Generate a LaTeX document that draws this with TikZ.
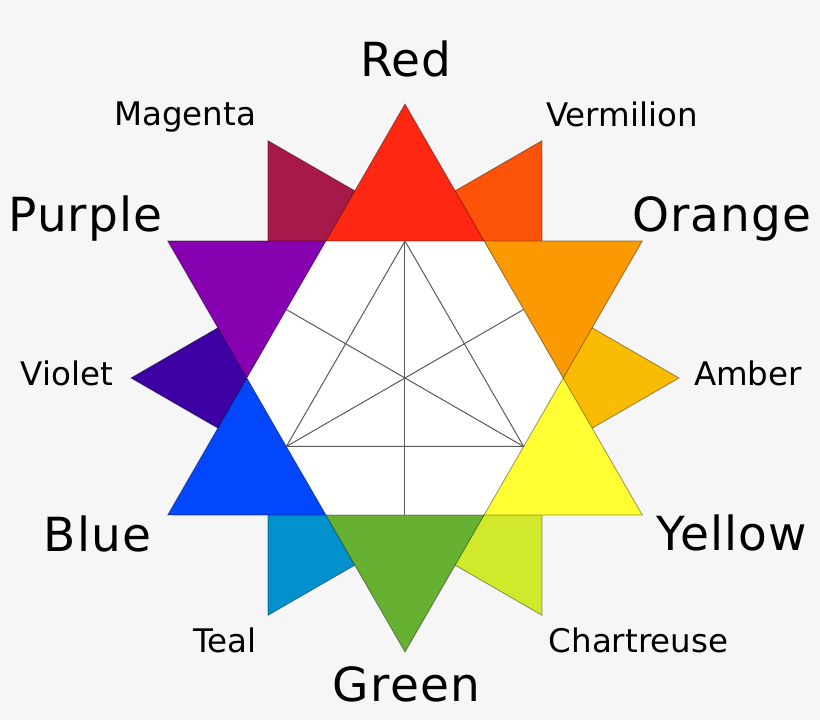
\documentclass[tikz,border=0pt]{standalone}
\usepackage{fontspec}
\setmainfont{DejaVu Sans}
\newfontfamily\bigfam[LetterSpace=2.5]{DejaVu Sans}
\definecolor{bgc}{HTML}{F6F6F6}
\definecolor{cRed}{HTML}{FE2712}
\definecolor{cVer}{HTML}{FD5308}
\definecolor{cOra}{HTML}{FB9902}
\definecolor{cAmb}{HTML}{FABC02}
\definecolor{cYel}{HTML}{FEFE33}
\definecolor{cCha}{HTML}{D0EA2B}
\definecolor{cGre}{HTML}{66B032}
\definecolor{cTea}{HTML}{0391CE}
\definecolor{cBlu}{HTML}{0247FE}
\definecolor{cVio}{HTML}{3D01A4}
\definecolor{cPur}{HTML}{8601AF}
\definecolor{cMag}{HTML}{A7194B}
\definecolor{innerc}{HTML}{5A5A5A}
\begin{document}
\begin{tikzpicture}[x=1pt,y=1pt,
  tipshape/.style={draw=black,draw opacity=0.4,line width=0.8pt},
  innerline/.style={draw=innerc,line width=1pt},
  biglabel/.style={anchor=base,inner sep=0pt,font=\bigfam\fontsize{47}{56}\selectfont},
  smalllabel/.style={anchor=base,inner sep=0pt,font=\fontsize{32.5}{39}\selectfont}]
\fill[bgc] (-405,-342) rectangle (415,378);
\useasboundingbox (-405,-342) rectangle (415,378);
\def\RR{274}
\def\rr{158.2}
\def\ri{137}
% tertiary tips
\foreach \a/\c in {60/cVer,0/cAmb,-60/cCha,-120/cTea,180/cVio,120/cMag}
  \filldraw[tipshape,fill=\c] (\a:\RR) -- ({\a+30}:\rr) -- ({\a-30}:\rr) -- cycle;
% white hexagon
\fill[white] (0:\rr) -- (60:\rr) -- (120:\rr) -- (180:\rr) -- (240:\rr) -- (300:\rr) -- cycle;
% primary and secondary tips
\foreach \a/\c in {90/cRed,30/cOra,-30/cYel,-90/cGre,-150/cBlu,150/cPur}
  \filldraw[tipshape,fill=\c] (\a:\RR) -- ({\a+30}:\rr) -- ({\a-30}:\rr) -- cycle;
% inner lines
\coordinate (p90) at (90:\ri);
\coordinate (p30) at (30:\ri);
\coordinate (m30) at (-30:\ri);
\coordinate (m90) at (-90:\ri);
\coordinate (m150) at (-150:\ri);
\coordinate (p150) at (150:\ri);
\draw[innerline] (p90) -- (m30) -- (m150) -- cycle;
\draw[innerline] (p90) -- (m90);
\draw[innerline] (p30) -- (m150);
\draw[innerline] (p150) -- (m30);
% labels
\node[biglabel] (lred) at (1,301) {Red};
\node[biglabel] (lpur) at (-319.5,146.3) {Purple};
\node[biglabel] (lora) at (317,146) {Orange};
\node[biglabel] (lblu) at (-307.3,-173.7) {Blue};
\node[biglabel] (lyel) at (327,-172) {Yellow};
\node[biglabel] (lgre) at (1.5,-323.7) {Green};
\node[smalllabel] (lmag) at (-220,252) {Magenta};
\node[smalllabel] (lver) at (217,251) {Vermilion};
\node[smalllabel] (lvio) at (-338,-8) {Violet};
\node[smalllabel] (lamb) at (343,-8) {Amber};
\node[smalllabel] (ltea) at (-180.3,-274.7) {Teal};
\node[smalllabel] (lcha) at (233.5,-274.7) {Chartreuse};
\end{tikzpicture}
\end{document}
